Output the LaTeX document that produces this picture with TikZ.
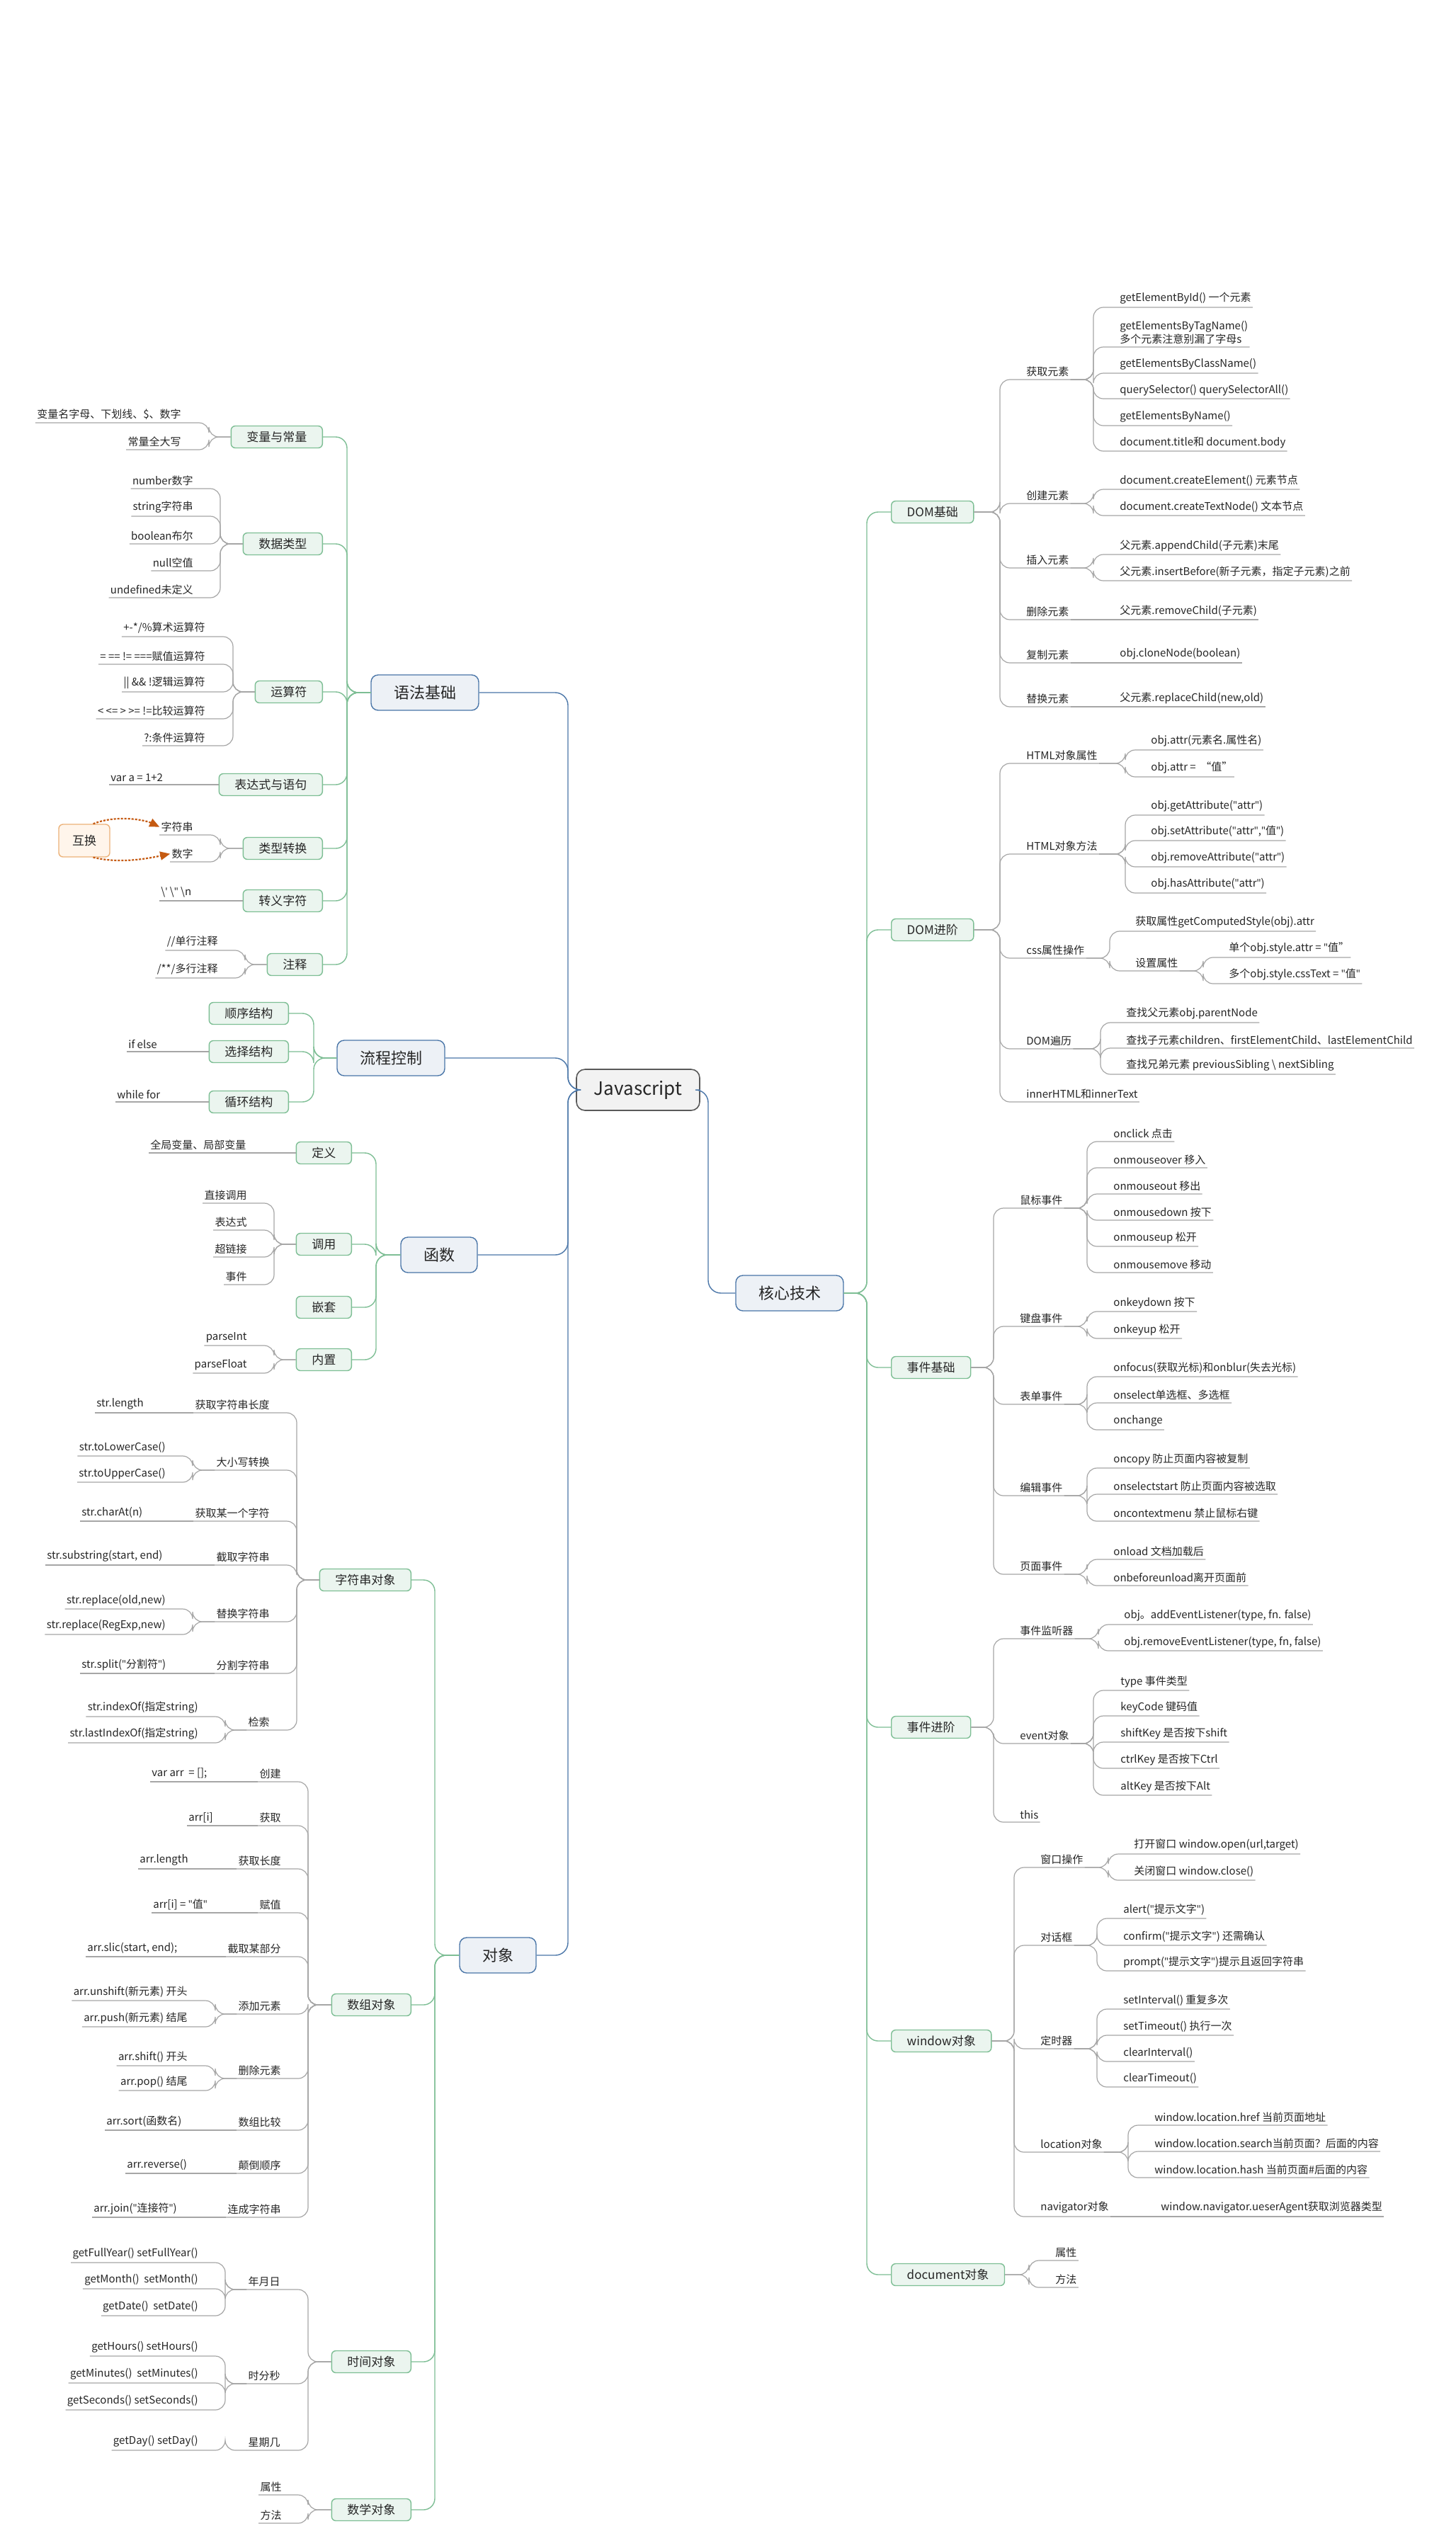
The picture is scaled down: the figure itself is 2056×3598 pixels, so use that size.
\documentclass[tikz,border=0pt]{standalone}
\usepackage{fontspec}
\defaultfontfeatures{}
\setmainfont{Noto Sans CJK SC}
\newfontfamily\latq{Open Sans}
\newcommand\dq{{\latq\symbol{34}}}
\newcommand\sq{{\latq\symbol{39}}}
\usetikzlibrary{arrows.meta}
\definecolor{tx}{HTML}{262626}
\definecolor{lg}{HTML}{A6A6A6}
\definecolor{gn}{HTML}{7DBE94}
\definecolor{bl}{HTML}{4A76A8}
\definecolor{or}{HTML}{C55A11}
\newcommand\lft[6]{\node[lf,anchor=south east] (#1) at (#4,#5) {#6}; \draw[gl] (#2) -| (#3,#5) -- (#1.south west);}
\newcommand\rgt[6]{\node[lf,anchor=south west] (#1) at (#4,#5) {#6}; \draw[gl] (#2) -| (#3,#5) -- (#1.south east);}
\newcommand\lfs[5]{\node[lf,anchor=south west] (#1) at (#3,#4) {#5}; \draw[gl] (#2) -- (#1.south west);}
\newcommand\rgs[5]{\node[lf,anchor=south west] (#1) at (#3,#4) {#5}; \draw[gl] (#2) -- (#1.south east);}
\begin{document}
\begin{tikzpicture}[x=0.5pt,y=-0.5pt,
 lf/.style={font=\fontsize{7.5}{9.5}\selectfont,text=tx,inner xsep=1pt,inner ysep=2pt,align=left},
 gl/.style={draw=lg,line width=0.6pt,rounded corners=7pt},
 gc/.style={draw=gn,line width=0.7pt,rounded corners=8pt},
 bc/.style={draw=bl,line width=0.7pt,rounded corners=9pt},
 rootb/.style={fill=black!5,draw=black!65,line width=0.8pt,rounded corners=6pt,font=\fontsize{13}{15}\selectfont,text=tx,minimum width=87pt,minimum height=29pt},
 mainb/.style={fill=bl!10,draw=bl,line width=0.7pt,rounded corners=5pt,font=\fontsize{11}{13}\selectfont,text=tx,minimum height=25pt,inner xsep=16pt},
 subb/.style={fill=gn!15,draw=gn,line width=0.7pt,rounded corners=3pt,font=\fontsize{8.5}{10}\selectfont,text=tx,minimum height=15.5pt,inner xsep=11pt},
 hub/.style={fill=orange!8,draw=orange!50!brown!60,line width=0.7pt,rounded corners=3pt,font=\fontsize{8.5}{10}\selectfont,text=tx,minimum width=36pt,minimum height=23pt},
 arr/.style={draw=or,line width=1.1pt,dash pattern=on 1.5pt off 1pt,-{Triangle[length=7pt,width=6pt]}}]
\useasboundingbox[fill=white] (0,0) rectangle (2056,3598);
% root and main topics
\node[rootb] (js) at (901,1539) {Javascript};
\node[mainb] (yf) at (600,978) {语法基础};
\node[mainb] (lc) at (552,1494) {流程控制};
\node[mainb] (hs) at (620,1772) {函数};
\node[mainb] (dx) at (703,2761) {对象};
\node[mainb] (hx) at (1115,1826) {核心技术};
\foreach \m in {yf,lc,hs,dx} \draw[bc] (js.west) -- (802,1539) |- (\m.east);
\draw[bc] (js.east) -- (1000,1539) |- (hx.west);
% ===== 语法基础
\node[subb,anchor=east] (s1) at (456,617) {变量与常量};
\node[subb,anchor=east] (s2) at (456,768) {数据类型};
\node[subb,anchor=east] (s3) at (456,977) {运算符};
\node[subb,anchor=east] (s4) at (456,1108) {表达式与语句};
\node[subb,anchor=east] (s5) at (456,1198) {类型转换};
\node[subb,anchor=east] (s6) at (456,1272) {转义字符};
\node[subb,anchor=east] (s7) at (456,1362) {注释};
\foreach \s in {s1,s2,s3,s4,s5,s6,s7} \draw[gc] (yf.west) -- (490,978) |- (\s.east);
\lft{a1}{s1.west}{295}{258}{597}{变量名字母、下划线、\$、数字}
\lft{a2}{s1.west}{295}{258}{635}{常量全大写}
\lft{b1}{s2.west}{311}{275}{690}{number数字}
\lft{b2}{s2.west}{311}{275}{729}{string字符串}
\lft{b3}{s2.west}{311}{275}{768}{boolean布尔}
\lft{b4}{s2.west}{311}{275}{806}{null空值}
\lft{b5}{s2.west}{311}{275}{844}{undefined未定义}
\lft{c1}{s3.west}{329}{292}{899}{+-*/\%算术运算符}
\lft{c2}{s3.west}{329}{292}{938}{= == != ===赋值运算符}
\lft{c3}{s3.west}{329}{292}{977}{|| \&\& !逻辑运算符}
\lft{c4}{s3.west}{329}{292}{1015}{< <= > >= !=比较运算符}
\lft{c5}{s3.west}{329}{292}{1053}{?:条件运算符}
\lfs{d1}{s4.west}{154}{1108}{var a = 1+2}
\lft{zfl}{s5.west}{311}{275}{1179}{字符串}
\lft{szl}{s5.west}{311}{275}{1217}{数字}
\lfs{e1}{s6.west}{225}{1272}{\textbackslash\sq{} \textbackslash\dq{} \textbackslash n}
\lft{f1}{s7.west}{346}{310}{1342}{//单行注释}
\lft{f2}{s7.west}{346}{310}{1381}{/**/多行注释}
\node[hub] (hu) at (119,1187) {互换};
\draw[arr] (hu.62) .. controls (165,1150) and (205,1158) .. (zfl.west);
\draw[arr] (hu.-62) .. controls (170,1220) and (210,1212) .. (szl.west);
% ===== 流程控制
\node[subb,anchor=east] (p1) at (408,1431) {顺序结构};
\node[subb,anchor=east] (p2) at (408,1485) {选择结构};
\node[subb,anchor=east] (p3) at (408,1556) {循环结构};
\foreach \s in {p1,p2,p3} \draw[gc] (lc.west) -- (443,1494) |- (\s.east);
\lfs{g1}{p2.west}{179}{1485}{if else}
\lfs{g2}{p3.west}{163}{1556}{while for}
% ===== 函数
\node[subb,anchor=east] (h1) at (497,1628) {定义};
\node[subb,anchor=east] (h2) at (497,1757) {调用};
\node[subb,anchor=east] (h3) at (497,1846) {嵌套};
\node[subb,anchor=east] (h4) at (497,1920) {内置};
\foreach \s in {h1,h2,h3,h4} \draw[gc] (hs.west) -- (531,1772) |- (\s.east);
\lfs{i1}{h1.west}{210}{1628}{全局变量、局部变量}
\lft{i2}{h2.west}{387}{351}{1699}{直接调用}
\lft{i3}{h2.west}{387}{351}{1737}{表达式}
\lft{i4}{h2.west}{387}{351}{1775}{超链接}
\lft{i5}{h2.west}{387}{351}{1814}{事件}
\lft{i6}{h4.west}{387}{351}{1900}{parseInt}
\lft{i7}{h4.west}{387}{351}{1939}{parseFloat}
% ===== 对象
\node[subb,anchor=east] (o1) at (581,2231) {字符串对象};
\node[subb,anchor=east] (o2) at (581,2831) {数组对象};
\node[subb,anchor=east] (o3) at (581,3335) {时间对象};
\node[subb,anchor=east] (o4) at (581,3544) {数学对象};
\foreach \s in {o1,o2,o3,o4} \draw[gc] (dx.west) -- (614,2761) |- (\s.east);
% string
\lft{m1}{o1.west}{419}{383}{1995}{获取字符串长度}
\lfs{n1}{m1.south west}{134}{1995}{str.length}
\lft{m2}{o1.west}{419}{383}{2076}{大小写转换}
\lft{n2}{m2.south west}{272}{236}{2056}{str.toLowerCase()}
\lft{n3}{m2.south west}{272}{236}{2093}{str.toUpperCase()}
\lft{m3}{o1.west}{419}{383}{2148}{获取某一个字符}
\lfs{n4}{m3.south west}{113}{2148}{str.charAt(n)}
\lft{m4}{o1.west}{419}{383}{2210}{截取字符串}
\lfs{n5}{m4.south west}{64}{2210}{str.substring(start, end)}
\lft{m5}{o1.west}{419}{383}{2290}{替换字符串}
\lft{n6}{m5.south west}{272}{236}{2272}{str.replace(old,new)}
\lft{n7}{m5.south west}{272}{236}{2308}{str.replace(RegExp,new)}
\lft{m6}{o1.west}{419}{383}{2363}{分割字符串}
\lfs{n8}{m6.south west}{113}{2363}{str.split(\dq{}分割符\dq{})}
\lft{m7}{o1.west}{419}{383}{2443}{检索}
\lft{n9}{m7.south west}{318}{282}{2424}{str.indexOf(指定string)}
\lft{n10}{m7.south west}{318}{282}{2461}{str.lastIndexOf(指定string)}
% array
\lft{q1}{o2.west}{435}{399}{2516}{创建}
\lfs{r1}{q1.south west}{212}{2516}{var arr\ \ = [];}
\lft{q2}{o2.west}{435}{399}{2578}{获取}
\lfs{r2}{q2.south west}{264}{2578}{arr[i]}
\lft{q3}{o2.west}{435}{399}{2639}{获取长度}
\lfs{r3}{q3.south west}{195}{2639}{arr.length}
\lft{q4}{o2.west}{435}{399}{2701}{赋值}
\lfs{r4}{q4.south west}{214}{2701}{arr[i] = \dq{}值\dq{}}
\lft{q5}{o2.west}{435}{399}{2763}{截取某部分}
\lfs{r5}{q5.south west}{121}{2763}{arr.slic(start, end);}
\lft{q6}{o2.west}{435}{399}{2844}{添加元素}
\lft{r6}{q6.south west}{304}{267}{2825}{arr.unshift(新元素) 开头}
\lft{r7}{q6.south west}{304}{267}{2862}{arr.push(新元素) 结尾}
\lft{q7}{o2.west}{435}{399}{2935}{删除元素}
\lft{r8}{q7.south west}{304}{267}{2917}{arr.shift() 开头}
\lft{r9}{q7.south west}{304}{267}{2952}{arr.pop() 结尾}
\lft{q8}{o2.west}{435}{399}{3008}{数组比较}
\lfs{r10}{q8.south west}{148}{3008}{arr.sort(函数名)}
\lft{q9}{o2.west}{435}{399}{3069}{颠倒顺序}
\lfs{r11}{q9.south west}{177}{3069}{arr.reverse()}
\lft{q10}{o2.west}{435}{399}{3131}{连成字符串}
\lfs{r12}{q10.south west}{130}{3131}{arr.join(\dq{}连接符\dq{})}
% time
\lft{t1}{o3.west}{435}{398}{3233}{年月日}
\lft{u1}{t1.south west}{318}{282}{3195}{getFullYear() setFullYear()}
\lft{u2}{t1.south west}{318}{282}{3232}{getMonth()\ \ setMonth()}
\lft{u3}{t1.south west}{318}{282}{3270}{getDate()\ \ setDate()}
\lft{t2}{o3.west}{435}{398}{3366}{时分秒}
\lft{u4}{t2.south west}{318}{282}{3327}{getHours() setHours()}
\lft{u5}{t2.south west}{318}{282}{3365}{getMinutes()\ \ setMinutes()}
\lft{u6}{t2.south west}{318}{282}{3403}{getSeconds() setSeconds()}
\lft{t3}{o3.west}{435}{398}{3460}{星期几}
\lft{u7}{t3.south west}{318}{282}{3460}{getDay() setDay()}
% math
\lft{v1}{o4.west}{435}{400}{3523}{属性}
\lft{v2}{o4.west}{435}{400}{3563}{方法}
% ===== 核心技术
\node[subb,anchor=west] (k1) at (1258,723) {DOM基础};
\node[subb,anchor=west] (k2) at (1258,1313) {DOM进阶};
\node[subb,anchor=west] (k3) at (1258,1931) {事件基础};
\node[subb,anchor=west] (k4) at (1258,2439) {事件进阶};
\node[subb,anchor=west] (k5) at (1258,2882) {window对象};
\node[subb,anchor=west] (k6) at (1258,3212) {document对象};
\foreach \s in {k1,k2,k3,k4,k5,k6} \draw[gc] (hx.east) -- (1224,1826) |- (\s.west);
% DOM基础
\rgt{w1}{k1.east}{1412}{1447}{536}{获取元素}
\rgt{x1}{w1.south east}{1544}{1579}{434}{getElementById() 一个元素}
\rgt{x2}{w1.south east}{1544}{1579}{490}{getElementsByTagName()\\多个元素注意别漏了字母s}
\rgt{x3}{w1.south east}{1544}{1579}{527}{getElementsByClassName()}
\rgt{x4}{w1.south east}{1544}{1579}{563}{querySelector() querySelectorAll()}
\rgt{x5}{w1.south east}{1544}{1579}{601}{getElementsByName()}
\rgt{x6}{w1.south east}{1544}{1579}{637}{document.title和 document.body}
\rgt{w2}{k1.east}{1412}{1447}{711}{创建元素}
\rgt{x7}{w2.south east}{1544}{1579}{691}{document.createElement() 元素节点}
\rgt{x8}{w2.south east}{1544}{1579}{728}{document.createTextNode() 文本节点}
\rgt{w3}{k1.east}{1412}{1447}{802}{插入元素}
\rgt{x9}{w3.south east}{1544}{1579}{783}{父元素.appendChild(子元素)末尾}
\rgt{x10}{w3.south east}{1544}{1579}{820}{父元素.insertBefore(新子元素，指定子元素)之前}
\rgt{w4}{k1.east}{1412}{1447}{875}{删除元素}
\rgs{x11}{w4.south east}{1579}{875}{父元素.removeChild(子元素)}
\rgt{w5}{k1.east}{1412}{1447}{936}{复制元素}
\rgs{x12}{w5.south east}{1579}{936}{obj.cloneNode(boolean)}
\rgt{w6}{k1.east}{1412}{1447}{998}{替换元素}
\rgs{x13}{w6.south east}{1579}{998}{父元素.replaceChild(new,old)}
% DOM进阶
\rgt{y1}{k2.east}{1412}{1447}{1078}{HTML对象属性}
\rgt{z1}{y1.south east}{1589}{1623}{1059}{obj.attr(元素名.属性名)}
\rgt{z2}{y1.south east}{1589}{1623}{1097}{obj.attr =\ \ “值”}
\rgt{y2}{k2.east}{1412}{1447}{1206}{HTML对象方法}
\rgt{z3}{y2.south east}{1589}{1623}{1151}{obj.getAttribute(\dq{}attr\dq{})}
\rgt{z4}{y2.south east}{1589}{1623}{1187}{obj.setAttribute(\dq{}attr\dq{},\dq{}值\dq{})}
\rgt{z5}{y2.south east}{1589}{1623}{1224}{obj.removeAttribute(\dq{}attr\dq{})}
\rgt{z6}{y2.south east}{1589}{1623}{1261}{obj.hasAttribute(\dq{}attr\dq{})}
\rgt{y3}{k2.east}{1412}{1447}{1353}{css属性操作}
\rgt{z7}{y3.south east}{1567}{1601}{1315}{获取属性getComputedStyle(obj).attr}
\rgt{z8}{y3.south east}{1567}{1601}{1371}{设置属性}
\rgt{z9}{z8.south east}{1699}{1733}{1352}{单个obj.style.attr = \dq{}值”}
\rgt{z10}{z8.south east}{1699}{1733}{1389}{多个obj.style.cssText = \dq{}值\dq{}}
\rgt{y4}{k2.east}{1412}{1447}{1481}{DOM遍历}
\rgt{z11}{y4.south east}{1554}{1588}{1444}{查找父元素obj.parentNode}
\rgt{z12}{y4.south east}{1554}{1588}{1480}{查找子元素children、firstElementChild、lastElementChild}
\rgt{z13}{y4.south east}{1554}{1588}{1517}{查找兄弟元素 previousSibling \textbackslash{} nextSibling}
\rgt{y5}{k2.east}{1412}{1447}{1556}{innerHTML和innerText}
% 事件基础
\rgt{e1m}{k3.east}{1403}{1438}{1706}{鼠标事件}
\rgt{e11}{e1m.south east}{1535}{1570}{1612}{onclick 点击}
\rgt{e12}{e1m.south east}{1535}{1570}{1649}{onmouseover 移入}
\rgt{e13}{e1m.south east}{1535}{1570}{1686}{onmouseout 移出}
\rgt{e14}{e1m.south east}{1535}{1570}{1723}{onmousedown 按下}
\rgt{e15}{e1m.south east}{1535}{1570}{1760}{onmouseup 松开}
\rgt{e16}{e1m.south east}{1535}{1570}{1797}{onmousemove 移动}
\rgt{e2m}{k3.east}{1403}{1438}{1873}{键盘事件}
\rgt{e21}{e2m.south east}{1535}{1570}{1852}{onkeydown 按下}
\rgt{e22}{e2m.south east}{1535}{1570}{1890}{onkeyup 松开}
\rgt{e3m}{k3.east}{1403}{1438}{1983}{表单事件}
\rgt{e31}{e3m.south east}{1535}{1570}{1944}{onfocus(获取光标)和onblur(失去光标)}
\rgt{e32}{e3m.south east}{1535}{1570}{1981}{onselect单选框、多选框}
\rgt{e33}{e3m.south east}{1535}{1570}{2019}{onchange}
\rgt{e4m}{k3.east}{1403}{1438}{2112}{编辑事件}
\rgt{e41}{e4m.south east}{1535}{1570}{2073}{oncopy 防止页面内容被复制}
\rgt{e42}{e4m.south east}{1535}{1570}{2110}{onselectstart 防止页面内容被选取}
\rgt{e43}{e4m.south east}{1535}{1570}{2148}{oncontextmenu 禁止鼠标右键}
\rgt{e5m}{k3.east}{1403}{1438}{2223}{页面事件}
\rgt{e51}{e5m.south east}{1535}{1570}{2202}{onload 文档加载后}
\rgt{e52}{e5m.south east}{1535}{1570}{2239}{onbeforeunload离开页面前}
% 事件进阶
\rgt{f1m}{k4.east}{1403}{1438}{2314}{事件监听器}
\rgt{f11}{f1m.south east}{1551}{1585}{2294}{obj。addEventListener(type, fn. false)}
\rgt{f12}{f1m.south east}{1551}{1585}{2331}{obj.removeEventListener(type, fn, false)}
\rgt{f2m}{k4.east}{1403}{1438}{2462}{event对象}
\rgt{f21}{f2m.south east}{1544}{1580}{2387}{type 事件类型}
\rgt{f22}{f2m.south east}{1544}{1580}{2423}{keyCode 键码值}
\rgt{f23}{f2m.south east}{1544}{1580}{2460}{shiftKey 是否按下shift}
\rgt{f24}{f2m.south east}{1544}{1580}{2497}{ctrlKey 是否按下Ctrl}
\rgt{f25}{f2m.south east}{1544}{1580}{2535}{altKey 是否按下Alt}
\rgt{f3m}{k4.east}{1403}{1438}{2573}{this}
% window对象
\rgt{g1m}{k5.east}{1432}{1467}{2637}{窗口操作}
\rgt{g11}{g1m.south east}{1565}{1599}{2618}{打开窗口 window.open(url,target)}
\rgt{g12}{g1m.south east}{1565}{1599}{2655}{关闭窗口 window.close()}
\rgt{g2m}{k5.east}{1432}{1467}{2747}{对话框}
\rgt{g21}{g2m.south east}{1549}{1584}{2709}{alert(\dq{}提示文字\dq{})}
\rgt{g22}{g2m.south east}{1549}{1584}{2747}{confirm(\dq{}提示文字\dq{}) 还需确认}
\rgt{g23}{g2m.south east}{1549}{1584}{2783}{prompt(\dq{}提示文字\dq{})提示且返回字符串}
\rgt{g3m}{k5.east}{1432}{1467}{2893}{定时器}
\rgt{g31}{g3m.south east}{1549}{1584}{2837}{setInterval() 重复多次}
\rgt{g32}{g3m.south east}{1549}{1584}{2874}{setTimeout() 执行一次}
\rgt{g33}{g3m.south east}{1549}{1584}{2911}{clearInterval()}
\rgt{g34}{g3m.south east}{1549}{1584}{2947}{clearTimeout()}
\rgt{g4m}{k5.east}{1432}{1467}{3039}{location对象}
\rgt{g41}{g4m.south east}{1593}{1628}{3001}{window.location.href 当前页面地址}
\rgt{g42}{g4m.south east}{1593}{1628}{3038}{window.location.search当前页面？后面的内容}
\rgt{g43}{g4m.south east}{1593}{1628}{3075}{window.location.hash 当前页面\#后面的内容}
\rgt{g5m}{k5.east}{1432}{1467}{3130}{navigator对象}
\rgs{g51}{g5m.south east}{1637}{3130}{window.navigator.ueserAgent获取浏览器类型}
% document对象
\rgt{h1m}{k6.east}{1453}{1488}{3192}{属性}
\rgt{h2m}{k6.east}{1453}{1488}{3230}{方法}
\end{tikzpicture}
\end{document}
